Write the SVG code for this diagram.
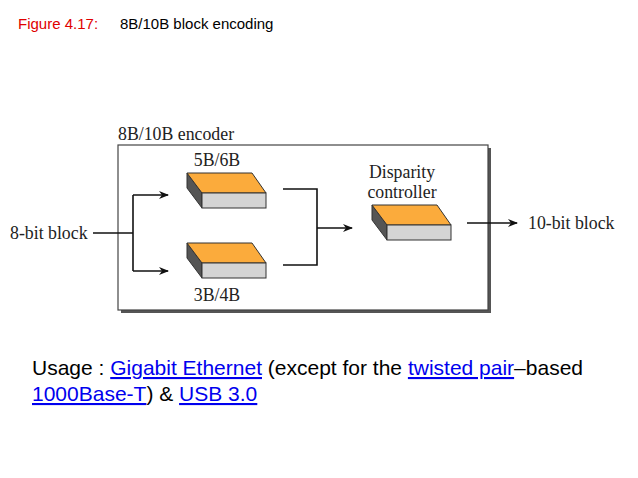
<svg xmlns="http://www.w3.org/2000/svg" width="638" height="478" viewBox="0 0 638 478">
<defs>
<style>
.t{font-family:"Liberation Serif",serif;font-size:17.8px;fill:#222}
.s{font-family:"Liberation Sans",Arial,sans-serif}
.ln{stroke:#111;stroke-width:1.6;fill:none}
.top{fill:#fbab3c;stroke:#333;stroke-width:1}
.side{fill:#555;stroke:#333;stroke-width:1}
.front{fill:#d4d4d4;stroke:#333;stroke-width:1}
.lk{fill:#0000ee;text-decoration:underline}
</style>
<marker id="ah" markerWidth="10" markerHeight="8" refX="9" refY="4" orient="auto" markerUnits="userSpaceOnUse"><path d="M0,0 L10,4 L0,8 L3,4 Z" fill="#111"/></marker>
<g id="blk"><polygon class="side" points="0,0 15,20 15,35 0,15"/><polygon class="top" points="0,0 65,0 79,20 15,20"/><rect class="front" x="15" y="20" width="64" height="15"/></g>
</defs>
<rect width="638" height="478" fill="#fff"/>
<text x="18" y="29" class="s" font-size="15" fill="#e00000">Figure 4.17:</text>
<text x="120" y="29" class="s" font-size="15" fill="#000">8B/10B block encoding</text>
<g id="encoder">
<rect x="121" y="148" width="370" height="165" fill="#555"/>
<rect x="118" y="145" width="370" height="165" fill="#fff" stroke="#444" stroke-width="1.2"/>
<text x="118" y="140" class="t">8B/10B encoder</text>
</g>
<g id="b56"><use href="#blk" x="187" y="173"/><text x="217" y="166" class="t" text-anchor="middle">5B/6B</text></g>
<g id="b34"><use href="#blk" x="187" y="243"/><text x="217" y="301" class="t" text-anchor="middle">3B/4B</text></g>
<g id="disp"><use href="#blk" x="372" y="205"/><text x="402" y="178" class="t" text-anchor="middle">Disparity</text><text x="402" y="198" class="t" text-anchor="middle">controller</text></g>
<g id="in"><text x="10" y="239" class="t">8-bit block</text></g>
<g id="out"><text x="528" y="229" class="t">10-bit block</text></g>
<g id="connectors">
<path class="ln" d="M93,233 H133"/>
<path class="ln" d="M133,195 V271"/>
<path class="ln" d="M133,195 H168" marker-end="url(#ah)"/>
<path class="ln" d="M133,271 H168" marker-end="url(#ah)"/>
<path class="ln" d="M283,189 H317 V265 H283"/>
<path class="ln" d="M317,228 H352" marker-end="url(#ah)"/>
<path class="ln" d="M467,223 H517" marker-end="url(#ah)"/>
</g>
<g id="usage" class="s" font-size="21">
<text x="32" y="375" fill="#000">Usage : <tspan class="lk">Gigabit Ethernet</tspan> (except for the <tspan class="lk">twisted pair</tspan>–based</text>
<text x="32" y="401" fill="#000"><tspan class="lk">1000Base-T</tspan>) &amp; <tspan class="lk">USB 3.0</tspan></text>
</g>
</svg>
